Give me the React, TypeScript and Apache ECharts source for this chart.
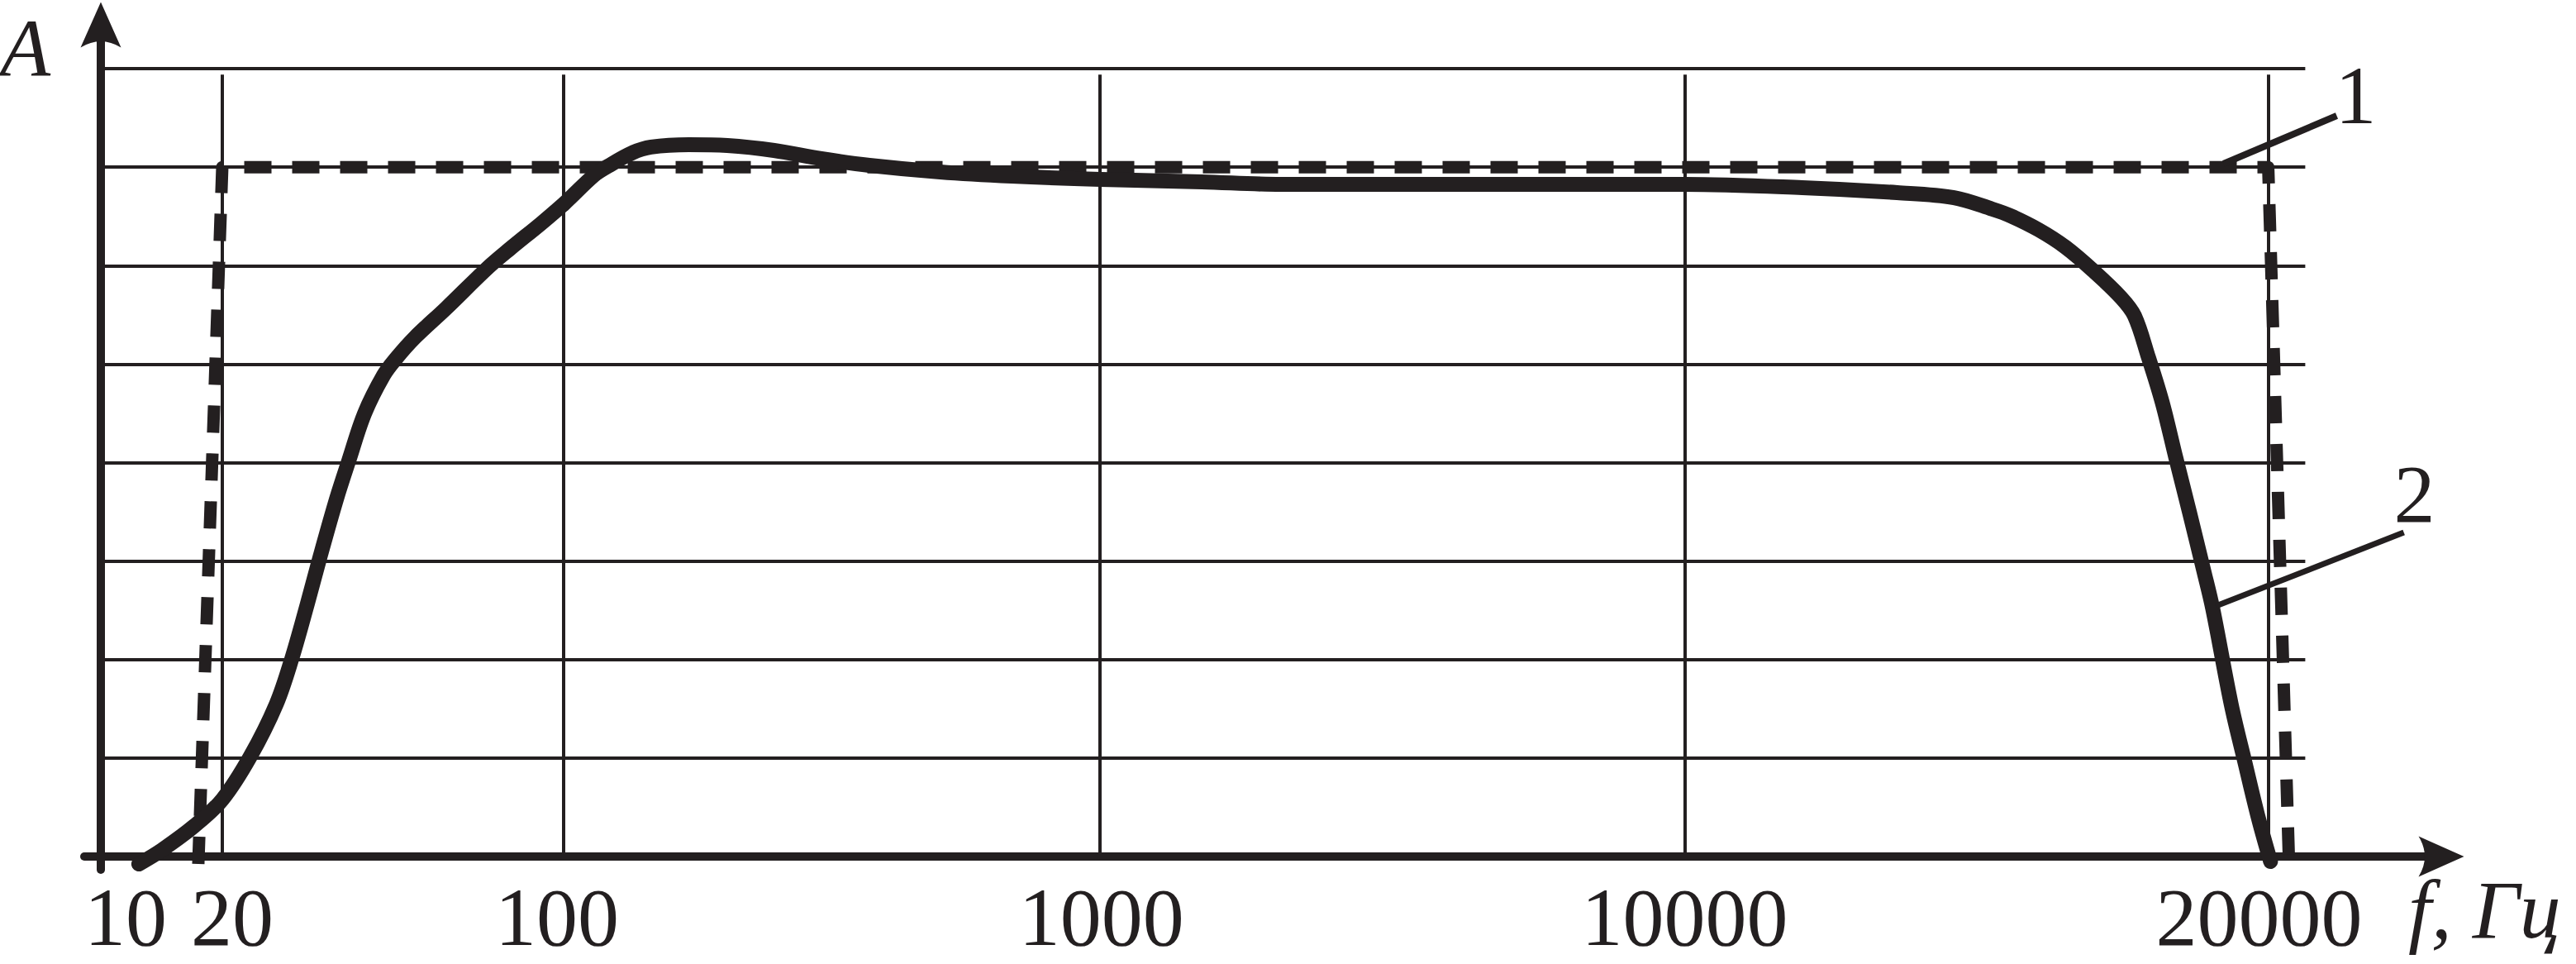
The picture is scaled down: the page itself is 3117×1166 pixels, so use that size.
import React, { useEffect, useRef } from 'react';
import * as echarts from 'echarts';

// x is a schematic frequency position (units of the 10–100 Hz span), y is amplitude in grid steps
const TICK_LABELS = ['10', '20', '100', '1000', '10000', '20000'];
const TICK_POS = [0, 0.2625, 1, 2.159, 3.423, 4.684];
const LEVELS = [1, 2, 3, 4, 5, 6, 7, 8];
const GRID_END = 4.764;
const VLINE_TOP = 7.94;

// curve 1: ideal response (dashed)
const IDEAL_X = [0.2107, 0.2625, 4.684, 4.729];
const IDEAL_Y = [-0.076, 7, 7, -0.076];

// curve 2: real response
const REAL_X = [
  0.082, 0.132, 0.202, 0.2625, 0.323, 0.379, 0.4125, 0.446, 0.473, 0.509, 0.536, 0.57, 0.611, 0.6375,
  0.679, 0.746, 0.836, 0.884, 0.952, 1.002, 1.066, 1.096, 1.148, 1.189, 1.271, 1.354, 1.455, 1.557,
  1.661, 1.814, 1.968, 2.161, 2.379, 2.55, 2.996, 3.423, 3.677, 3.882, 4.005, 4.088, 4.127, 4.188,
  4.246, 4.305, 4.366, 4.395, 4.425, 4.455, 4.484, 4.514, 4.545, 4.564, 4.604, 4.634, 4.663, 4.689,
];
const REAL_Y = [
  -0.076, 0.067, 0.311, 0.579, 1.016, 1.545, 2.006, 2.56, 3.03, 3.626, 4.021, 4.499, 4.886, 5.054,
  5.272, 5.566, 5.977, 6.17, 6.43, 6.632, 6.917, 7.009, 7.144, 7.203, 7.228, 7.219, 7.169, 7.085,
  7.018, 6.951, 6.909, 6.875, 6.85, 6.825, 6.825, 6.825, 6.791, 6.741, 6.69, 6.573, 6.506, 6.363,
  6.187, 5.952, 5.675, 5.49, 5.07, 4.609, 4.055, 3.492, 2.896, 2.518, 1.545, 0.949, 0.386, -0.05,
];

const CURVE_NAMES = ['1', '2'];
const NAME_POS = [
  [4.873, 7.731],
  [5.0, 3.685],
];
const LEADERS = [
  [[4.5875, 7.035], [4.832, 7.522]],
  [[4.571, 2.543], [4.977, 3.291]],
];

const INK = '#231f20';
const FONT = "'Liberation Serif', 'Times New Roman', serif";
const ARROW = 'path://M24.5,0 L49,55 Q24.5,40 0,55 Z';
const LABEL_SHIFT = [30, 12, -8, 2, 0, -11];
const LEADER_WIDTH = [8, 7];

export default function App() {
  const ref = useRef<HTMLDivElement>(null);

  useEffect(() => {
    document.body.style.margin = '0';
    const chart = echarts.init(ref.current as HTMLDivElement, null, { renderer: 'svg' });

    const rich: Record<string, any> = {};
    TICK_LABELS.forEach((_, i) => {
      const s = LABEL_SHIFT[i];
      rich['t' + i] = {
        fontSize: 100,
        fontFamily: FONT,
        color: INK,
        lineHeight: 100,
        padding: s >= 0 ? [0, 0, 0, 2 * s] : [0, -2 * s, 0, 0],
      };
    });

    const nearestTick = (v: number) => {
      let best = 0;
      TICK_POS.forEach((p, i) => {
        if (Math.abs(p - v) < Math.abs(TICK_POS[best] - v)) best = i;
      });
      return best;
    };

    const pair = (a: number[], b: number[], extra: any = {}) => [{ coord: a, ...extra }, { coord: b }];

    const option: any = {
      animation: false,
      backgroundColor: '#ffffff',
      grid: { left: 102, right: 163, top: 30, bottom: 114, outerBoundsMode: 'none' },
      xAxis: {
        type: 'value',
        min: -0.0357,
        max: 5.058,
        axisLine: {
          show: true,
          onZero: true,
          symbol: ['none', ARROW],
          symbolSize: [49, 55],
          lineStyle: { color: INK, width: 10 },
        },
        axisTick: { show: false },
        splitLine: { show: false },
        axisLabel: {
          show: true,
          customValues: TICK_POS,
          showMinLabel: true,
          showMaxLabel: true,
          hideOverlap: false,
          margin: 7,
          formatter: (v: number) => {
            const i = nearestTick(v);
            return `{t${i}|${TICK_LABELS[i]}}`;
          },
          rich,
        },
        name: '{n|f, Гц}',
        nameLocation: 'end',
        nameGap: -40,
        nameMoveOverlap: false,
        nameTextStyle: {
          align: 'left',
          verticalAlign: 'middle',
          rich: {
            n: {
              fontSize: 100,
              fontFamily: FONT,
              fontStyle: 'italic',
              color: INK,
              lineHeight: 100,
              padding: [128, 0, 0, 0],
            },
          },
        },
      },
      yAxis: {
        type: 'value',
        min: -0.134,
        max: 8.445,
        axisLine: {
          show: true,
          onZero: true,
          symbol: ['none', ARROW],
          symbolSize: [49, 55],
          lineStyle: { color: INK, width: 10 },
        },
        axisTick: { show: false },
        axisLabel: { show: false },
        splitLine: { show: false },
        name: 'A',
        nameLocation: 'end',
        nameGap: -28,
        nameMoveOverlap: false,
        nameTextStyle: {
          fontSize: 100,
          fontFamily: FONT,
          fontStyle: 'italic',
          color: INK,
          align: 'right',
          verticalAlign: 'middle',
          lineHeight: 70,
          padding: [0, 61, 0, 0],
        },
      },
      series: [
        {
          type: 'line',
          name: 'grid',
          data: [[0, 0]],
          symbol: 'none',
          lineStyle: { width: 0 },
          silent: true,
          z: 1,
          markLine: {
            silent: true,
            symbol: 'none',
            label: { show: false },
            emphasis: { disabled: true },
            lineStyle: { color: INK, width: 4, type: 'solid' },
            data: [
              ...LEVELS.map((k) => pair([0, k], [GRID_END, k])),
              ...TICK_POS.slice(1).map((p) => pair([p, 0], [p, VLINE_TOP])),
            ],
          },
        },
        {
          type: 'line',
          name: '1',
          data: IDEAL_X.map((x, i) => [x, IDEAL_Y[i]]),
          symbol: 'none',
          silent: true,
          z: 3,
          lineStyle: { color: INK, width: 15, type: [33, 25], join: 'round' },
        },
        {
          type: 'line',
          name: '2',
          data: REAL_X.map((x, i) => [x, REAL_Y[i]]),
          symbol: 'none',
          smooth: 0.35,
          silent: true,
          z: 4,
          lineStyle: { color: INK, width: 18, cap: 'round', join: 'round' },
        },
        {
          type: 'line',
          name: 'notes',
          data: [[0, 0]],
          symbol: 'none',
          lineStyle: { width: 0 },
          silent: true,
          z: 5,
          markLine: {
            silent: true,
            symbol: 'none',
            label: { show: false },
            emphasis: { disabled: true },
            lineStyle: { color: INK, width: 8, type: 'solid' },
            data: LEADERS.map((l, i) =>
              pair(l[0], l[1], { lineStyle: { color: INK, width: LEADER_WIDTH[i], type: 'solid' } })
            ),
          },
          markPoint: {
            silent: true,
            symbol: 'circle',
            symbolSize: 1,
            itemStyle: { color: 'rgba(0,0,0,0)' },
            label: {
              show: true,
              position: 'inside',
              color: INK,
              fontSize: 100,
              fontFamily: FONT,
              formatter: (p: any) => p.name,
            },
            data: CURVE_NAMES.map((n, i) => ({ name: n, coord: NAME_POS[i] })),
          },
        },
      ],
    };

    chart.setOption(option);
    return () => chart.dispose();
  }, []);

  return <div ref={ref} style={{ width: 3117, height: 1166 }} />;
}
